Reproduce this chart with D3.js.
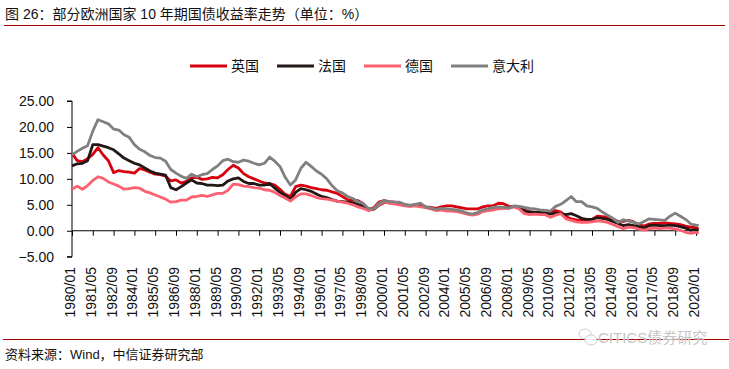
<!DOCTYPE html>
<html>
<head>
<meta charset="utf-8">
<script src="https://cdn.jsdelivr.net/npm/d3@7"></script>
<style>
  body { margin: 0; background: #fff; }
  svg { display: block; font-family: "Liberation Sans", Arial, "Noto Sans CJK SC", sans-serif; }
</style>
</head>
<body>
<svg id="chart" width="729" height="369"></svg>
<script>
// months since 1980/01, sampled every 4 months, last point 2020/03
const monthIdx = d3.range(0, 481, 4).concat([482]);

const tickLabels = ["1980/01","1981/05","1982/09","1984/01","1985/05","1986/09","1988/01","1989/05",
  "1990/09","1992/01","1993/05","1994/09","1996/01","1997/05","1998/09","2000/01","2001/05","2002/09",
  "2004/01","2005/05","2006/09","2008/01","2009/05","2010/09","2012/01","2013/05","2014/09","2016/01",
  "2017/05","2018/09","2020/01"];

const seriesNames = ["英国", "法国", "德国", "意大利"];

const uk = [14.9,13.5,13.3,13.9,14.7,16.0,14.6,13.5,11.2,11.6,11.4,11.3,11.1,12.0,11.7,11.3,10.9,10.8,10.5,9.6,9.8,9.2,9.5,10.2,10.3,9.9,10.0,10.3,10.2,10.8,11.8,
  12.6,12.1,11.0,10.4,10.0,9.6,9.2,9.1,8.8,8.0,7.0,6.6,8.5,8.8,8.6,8.3,8.1,7.9,7.8,7.5,7.2,6.6,6.0,5.9,5.8,5.2,4.2,4.4,5.5,5.8,
  5.6,5.5,5.3,5.0,4.9,5.0,5.1,4.6,4.5,4.3,4.6,4.8,4.8,4.6,4.4,4.2,4.2,4.2,4.6,4.8,4.8,5.3,5.2,4.7,4.7,4.5,4.0,3.7,3.5,3.6,
  3.8,3.6,3.9,3.6,2.7,2.3,2.1,2.0,2.1,2.2,2.8,2.7,2.6,2.2,1.8,1.8,2.0,1.7,1.2,0.9,1.3,1.4,1.4,1.5,1.4,1.3,1.2,0.9,0.7,0.6,0.3];

const france = [12.5,12.9,13.0,13.5,16.6,16.6,16.3,16.0,15.6,14.8,14.0,13.5,13.0,12.7,12.1,11.5,11.1,10.9,10.7,8.3,7.9,8.5,9.2,9.8,9.2,9.1,8.8,8.8,8.7,8.8,9.6,
  10.0,10.2,9.5,9.1,9.1,8.8,8.8,9.1,8.2,7.4,6.8,6.0,7.4,8.1,7.9,7.6,7.1,6.6,6.4,6.0,5.7,5.6,5.5,5.4,5.1,4.7,4.0,4.1,4.9,5.4,
  5.4,5.3,5.1,4.9,4.8,4.9,4.8,4.5,4.3,4.0,4.2,4.0,4.0,3.8,3.6,3.3,3.1,3.4,3.8,4.0,4.2,4.4,4.4,4.4,4.7,4.4,3.8,3.6,3.6,3.5,
  3.5,3.2,3.4,3.3,3.1,3.3,2.9,2.4,2.2,2.2,2.5,2.4,2.2,1.8,1.4,1.0,1.2,1.0,0.8,0.5,1.0,1.1,1.0,1.0,1.1,1.0,0.8,0.5,0.1,0.2,0.0];

const germany = [8.0,8.6,8.0,8.7,9.7,10.4,10.1,9.4,9.0,8.6,8.0,8.1,8.3,8.2,7.6,7.3,6.9,6.5,6.1,5.5,5.6,5.9,5.9,6.5,6.6,6.8,6.6,6.9,7.2,7.2,7.8,
  9.0,8.9,8.6,8.5,8.3,8.2,7.9,7.8,7.4,6.8,6.3,5.7,6.5,7.1,7.1,6.8,6.4,6.2,6.1,5.9,5.7,5.5,5.3,5.0,4.6,4.3,3.9,4.2,5.0,5.5,
  5.3,5.2,5.0,4.8,4.7,4.8,4.6,4.5,4.2,3.9,4.0,3.8,3.8,3.7,3.5,3.2,3.0,3.2,3.7,3.9,4.0,4.2,4.3,4.3,4.6,4.2,3.3,3.1,3.2,3.1,
  3.1,2.6,3.0,3.3,2.3,2.0,1.7,1.6,1.6,1.7,1.9,1.8,1.6,1.2,0.8,0.4,0.7,0.6,0.3,0.1,0.4,0.5,0.4,0.5,0.5,0.3,0.1,-0.3,-0.5,-0.3,-0.5];

const italy = [14.6,15.3,15.9,16.4,19.2,21.4,21.0,20.6,19.6,19.4,18.5,18.0,16.6,15.7,15.2,14.5,14.1,14.0,13.4,11.8,11.1,10.5,10.1,10.9,10.4,10.8,11.0,11.8,12.5,13.5,13.8,
  13.3,13.2,13.6,13.4,13.0,12.7,13.0,14.2,13.4,12.4,10.3,8.8,9.8,12.0,13.2,12.4,11.5,10.9,10.0,8.7,7.7,7.3,6.6,6.2,5.6,5.2,4.3,4.2,5.3,5.8,
  5.6,5.5,5.5,5.1,4.9,5.1,5.3,4.6,4.4,4.1,4.3,4.2,4.1,4.0,3.8,3.4,3.2,3.5,4.0,4.2,4.5,4.6,4.5,4.4,4.8,4.7,4.5,4.3,4.2,4.0,
  3.9,3.8,4.7,5.1,5.8,6.6,5.6,5.6,4.8,4.6,4.3,3.6,3.0,2.4,1.6,2.1,1.9,1.6,1.3,1.8,2.3,2.2,2.1,2.0,2.8,3.4,2.8,2.2,1.3,1.1,1.0];

const yTicks = [-5, 0, 5, 10, 15, 20, 25];
const colors = ["#d7000f", "#231816", "#fb6170", "#808080"];
const allSeries = [uk, france, germany, italy];

const svg = d3.select("#chart");

// title
svg.append("text").attr("x", 5).attr("y", 19)
  .style("font-size", "14px").attr("fill", "#111")
  .text("图 26：部分欧洲国家 10 年期国债收益率走势（单位：%）");
svg.append("line").attr("x1", 4).attr("x2", 725).attr("y1", 25.5).attr("y2", 25.5)
  .attr("stroke", "#a50000").attr("stroke-width", 1);

// scales
const x = d3.scaleLinear().domain([0, 482]).range([72, 72 + 482 * 1.3]);
const y = d3.scaleLinear().domain([-5, 25]).range([256.7, 101]);

// y axis
const yAxis = svg.append("g").attr("transform", "translate(72,0)")
  .call(d3.axisLeft(y).tickValues(yTicks).tickSize(5).tickPadding(13).tickFormat(d3.format(".2f")));
yAxis.selectAll("text").style("font-size", "14px").attr("fill", "#111");
yAxis.select(".domain").attr("d", "M-5," + y(25) + "H0V" + y(-5) + "H-5");

// x axis at zero
const xAxis = svg.append("g").attr("transform", "translate(0," + y(0) + ")")
  .call(d3.axisBottom(x).tickValues(tickLabels.map((d, k) => k * 16)).tickSize(5).tickFormat(""));
xAxis.select(".domain").attr("d", "M72,0H697");

svg.append("g").selectAll("text")
  .data(tickLabels)
  .join("text")
  .attr("transform", (d, k) => "translate(" + (x(k * 16) - 2) + ",267) rotate(-90)")
  .attr("text-anchor", "end")
  .attr("dy", "0.35em")
  .style("font-size", "14px")
  .attr("fill", "#111")
  .text(d => d);

// lines
const line = d3.line()
  .x((d, i) => x(monthIdx[i]))
  .y(d => y(d));

svg.append("g").selectAll("path")
  .data(allSeries)
  .join("path")
  .attr("d", d => line(d))
  .attr("fill", "none")
  .attr("stroke", (d, i) => colors[i])
  .attr("stroke-width", 2.8)
  .attr("stroke-linejoin", "round");

// legend
const legendX = [190, 277, 364, 451];
const legend = svg.append("g").selectAll("g")
  .data(seriesNames)
  .join("g")
  .attr("transform", (d, i) => "translate(" + legendX[i] + ",66)");
legend.append("line").attr("x1", 0).attr("x2", 37).attr("y1", 0).attr("y2", 0)
  .attr("stroke", (d, i) => colors[i]).attr("stroke-width", 3);
legend.append("text").attr("x", 41).attr("dy", "0.36em")
  .style("font-size", "14px").attr("fill", "#111").text(d => d);

// footer
svg.append("line").attr("x1", 3).attr("x2", 729).attr("y1", 339.5).attr("y2", 339.5)
  .attr("stroke", "#a50000").attr("stroke-width", 1);
svg.append("text").attr("x", 5).attr("y", 359)
  .style("font-size", "13px").attr("fill", "#111")
  .text("资料来源：Wind，中信证券研究部");

// watermark
const wm = svg.append("g").attr("opacity", 0.9);
wm.append("ellipse").attr("cx", 585).attr("cy", 334).attr("rx", 6).attr("ry", 5)
  .attr("fill", "#fff").attr("stroke", "#c8c8c8").attr("stroke-width", 1);
wm.append("ellipse").attr("cx", 591).attr("cy", 340).attr("rx", 6).attr("ry", 5)
  .attr("fill", "#fff").attr("stroke", "#c8c8c8").attr("stroke-width", 1);
wm.append("text").attr("x", 598).attr("y", 343)
  .style("font-size", "15px").attr("fill", "#c0c0c0")
  .attr("stroke", "#fff").attr("stroke-width", 0.6).attr("paint-order", "stroke")
  .text("CITICS债券研究");
</script>
</body>
</html>
